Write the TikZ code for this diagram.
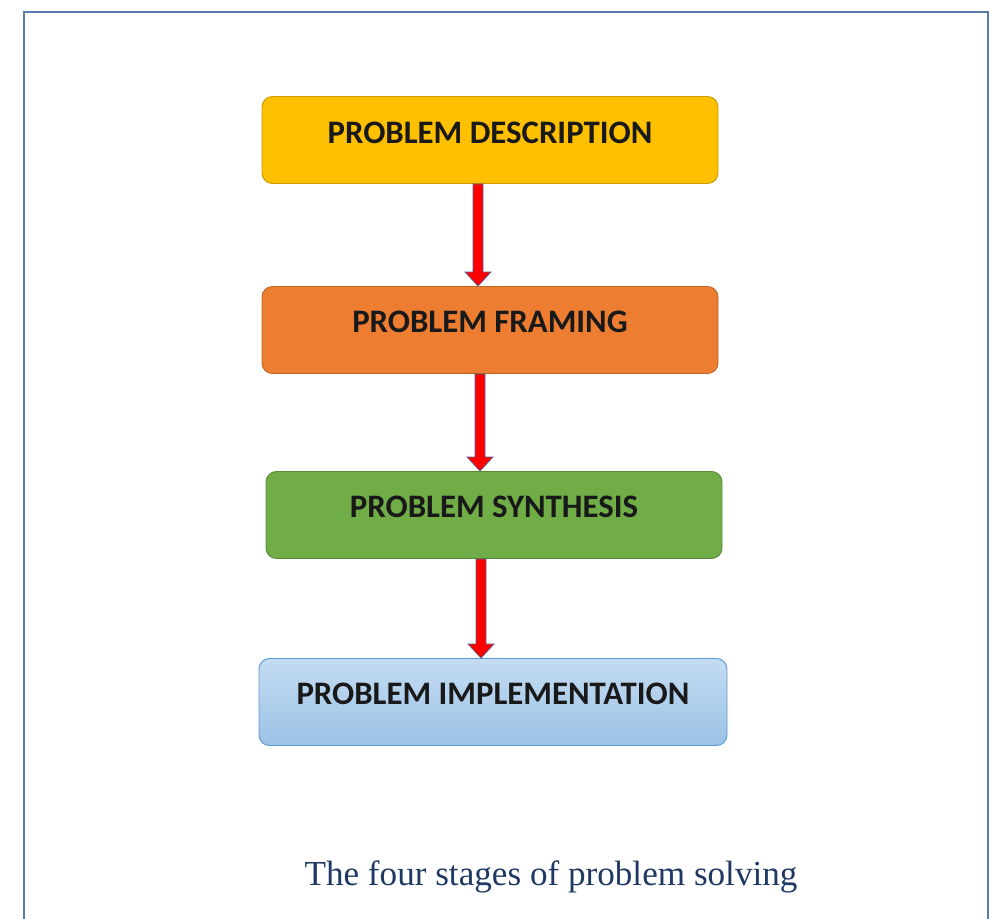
\documentclass[tikz,border=0pt]{standalone}
\usepackage{fontspec}
\setmainfont{Carlito}
\newfontfamily\capfont{Liberation Serif}
\begin{document}
\begin{tikzpicture}[x=0.03cm,y=-0.03cm,
  stage/.style={rounded corners=9pt,line width=0.8pt,minimum width=456*0.03cm,minimum height=87*0.03cm,text=black!90},
  lbl/.style={font=\fontsize{28}{32}\selectfont\bfseries,text=black!90}]
\useasboundingbox (0,0) rectangle (1002,919);
\draw[line width=1.2pt,color={rgb,255:red,90;green,125;blue,175}] (24,919) -- (24,12) -- (988,12) -- (988,919);
\definecolor{yel}{RGB}{255,192,0}
\definecolor{ora}{RGB}{237,125,49}
\definecolor{gre}{RGB}{112,173,71}
\definecolor{blu}{RGB}{91,155,213}
\node[stage,fill=yel,draw=yel!80!black] (a) at (490,140) {};
\node[stage,fill=ora,draw=ora!80!black] (b) at (490,330) {};
\node[stage,fill=gre,draw=gre!80!black] (c) at (494,515) {};
\node[stage,minimum width=468*0.03cm,top color={rgb,255:red,196;green,220;blue,242},bottom color={rgb,255:red,155;green,194;blue,230},draw=blu] (d) at (493,702) {};
\node[lbl] (ta) at (490,133) {PROBLEM DESCRIPTION};
\node[lbl] (tb) at (490,322) {PROBLEM FRAMING};
\node[lbl] (tc) at (494,507) {PROBLEM SYNTHESIS};
\node[lbl] (td) at (493,694) {PROBLEM IMPLEMENTATION};
\tikzset{arr/.style={draw={rgb,255:red,80;green,100;blue,150},line width=0.6pt,fill=red}}
\newcommand{\myarrow}[3]{%
  \path (#1.south) coordinate (s) (#2.north) coordinate (e);
  \filldraw[arr] (#3-5,0 |- s) -- (#3+5,0 |- s) -- ([yshift=14*0.03cm]#3+5,0 |- e) -- ([yshift=14*0.03cm]#3+13,0 |- e) -- (#3,0 |- e) -- ([yshift=14*0.03cm]#3-13,0 |- e) -- ([yshift=14*0.03cm]#3-5,0 |- e) -- cycle;}
\myarrow{a}{b}{478}
\myarrow{b}{c}{480}
\myarrow{c}{d}{481}
\node[font=\capfont\fontsize{30}{34}\selectfont,text={rgb,255:red,31;green,56;blue,100}] (cap) at (551,877) {The four stages of problem solving};
\end{tikzpicture}
\end{document}
